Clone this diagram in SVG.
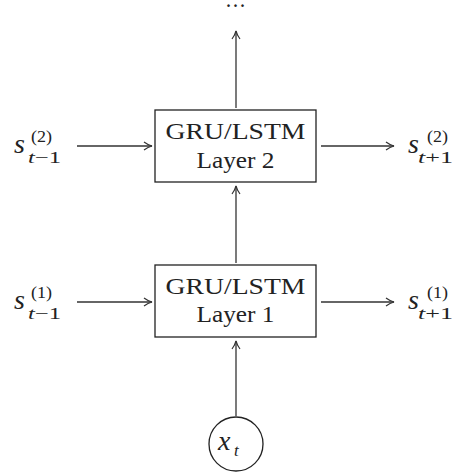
<svg xmlns="http://www.w3.org/2000/svg" width="474" height="476" viewBox="0 0 474 476">
<style>
.box{fill:#fff;stroke:#222;stroke-width:1.3}
.ln{stroke:#333;stroke-width:1.3;fill:none}
.t{font-family:"Liberation Serif","DejaVu Serif",serif;font-size:23px;fill:#222;text-anchor:middle}
.m{font-family:"Liberation Serif","DejaVu Serif",serif;font-style:italic;font-size:28px;fill:#222}
.s{font-family:"Liberation Serif","DejaVu Serif",serif;font-size:16px;fill:#222}
.si{font-family:"Liberation Serif","DejaVu Serif",serif;font-style:italic;font-size:17px;fill:#222}
</style>
<defs>
<marker id="ah" viewBox="0 0 10 10" refX="9" refY="5" markerWidth="10" markerHeight="10" markerUnits="userSpaceOnUse" orient="auto">
<path d="M1,1 Q5,4 9,5 Q5,6 1,9" fill="none" stroke="#333" stroke-width="1.2"/>
</marker>
</defs>
<g id="connectors">
<line class="ln" x1="77" y1="146" x2="152" y2="146" marker-end="url(#ah)"/>
<line class="ln" x1="321" y1="146" x2="394" y2="146" marker-end="url(#ah)"/>
<line class="ln" x1="77" y1="302" x2="152" y2="302" marker-end="url(#ah)"/>
<line class="ln" x1="321" y1="302" x2="394" y2="302" marker-end="url(#ah)"/>
<line class="ln" x1="236" y1="108" x2="236" y2="31" marker-end="url(#ah)"/>
<line class="ln" x1="236" y1="263" x2="236" y2="186" marker-end="url(#ah)"/>
<line class="ln" x1="236" y1="416" x2="236" y2="341" marker-end="url(#ah)"/>
</g>
<g id="dots">
<text class="t" x="237" y="7" style="font-size:16px;font-weight:bold;letter-spacing:3px">...</text>
</g>
<g id="layer2">
<rect class="box" x="155" y="110" width="161" height="72"/>
<text class="t" x="235.5" y="139" textLength="140" lengthAdjust="spacingAndGlyphs">GRU/LSTM</text>
<text class="t" x="235.5" y="168" textLength="78" lengthAdjust="spacingAndGlyphs">Layer 2</text>
</g>
<g id="layer1">
<rect class="box" x="155" y="265" width="161" height="72"/>
<text class="t" x="235.5" y="294" textLength="140" lengthAdjust="spacingAndGlyphs">GRU/LSTM</text>
<text class="t" x="235.5" y="322" textLength="78" lengthAdjust="spacingAndGlyphs">Layer 1</text>
</g>
<g id="s2prev">
<text class="m" x="14" y="153">s</text>
<text class="s" x="31" y="142" textLength="21" lengthAdjust="spacingAndGlyphs">(2)</text>
<text class="si" x="28" y="163" textLength="33" lengthAdjust="spacingAndGlyphs">t<tspan font-style="normal">−1</tspan></text>
</g>
<g id="s2next">
<text class="m" x="408" y="153">s</text>
<text class="s" x="427" y="142" textLength="21" lengthAdjust="spacingAndGlyphs">(2)</text>
<text class="si" x="418" y="163" textLength="35" lengthAdjust="spacingAndGlyphs">t<tspan font-style="normal">+1</tspan></text>
</g>
<g id="s1prev">
<text class="m" x="14" y="309">s</text>
<text class="s" x="31" y="298" textLength="21" lengthAdjust="spacingAndGlyphs">(1)</text>
<text class="si" x="28" y="319" textLength="33" lengthAdjust="spacingAndGlyphs">t<tspan font-style="normal">−1</tspan></text>
</g>
<g id="s1next">
<text class="m" x="408" y="309">s</text>
<text class="s" x="427" y="298" textLength="21" lengthAdjust="spacingAndGlyphs">(1)</text>
<text class="si" x="418" y="319" textLength="35" lengthAdjust="spacingAndGlyphs">t<tspan font-style="normal">+1</tspan></text>
</g>
<g id="xt">
<circle class="box" cx="236" cy="444" r="27"/>
<text class="m" x="218" y="450">x</text>
<text class="si" x="234" y="456">t</text>
</g>
</svg>
